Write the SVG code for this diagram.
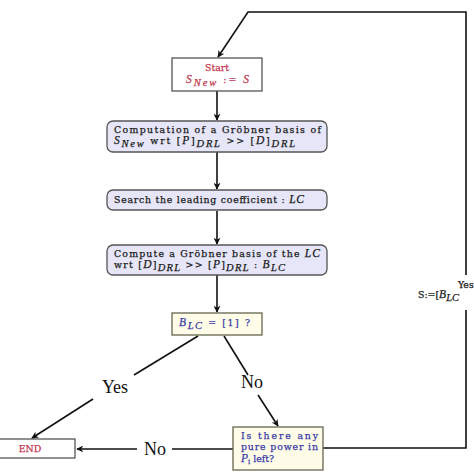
<svg xmlns="http://www.w3.org/2000/svg" width="474" height="474" viewBox="0 0 474 474">
<defs>
<style>
.box{fill:#e6e6f8;stroke:#555;stroke-width:1.3}
.wbox{fill:#fff;stroke:#555;stroke-width:1.3}
.ybox{fill:#fffde8;stroke:#666650;stroke-width:1.3}
.t{font-family:"DejaVu Serif","Liberation Serif",serif;font-size:9.4px;fill:#1a1a1a;stroke:#1a1a1a;stroke-width:0.25}
.i{font-family:"Liberation Serif","DejaVu Serif",serif;font-style:italic;font-size:11.5px}
.s{font-family:"Liberation Serif","DejaVu Serif",serif;font-style:italic;font-size:10.5px}
.red{fill:#c33650;stroke:#c33650}
.blue{fill:#3a3aa8;stroke:#3a3aa8}
.lbl{font-family:"Liberation Serif","DejaVu Serif",serif;font-size:18px;fill:#111}
.ln{fill:none;stroke:#111;stroke-width:1.6}
</style>
<marker id="ah" viewBox="0 0 10 10" refX="9" refY="5" markerWidth="7" markerHeight="7" orient="auto" markerUnits="userSpaceOnUse">
<path d="M0,0 L10,5 L0,10 L3,5 Z" fill="#111"/>
</marker>
</defs>
<rect width="474" height="474" fill="#fff"/>
<g id="connectors">
<polyline class="ln" points="323,448 466,448 466,310"/>
<polyline class="ln" points="466,275 466,12 248,12 218,57" marker-end="url(#ah)"/>
<line class="ln" x1="217" y1="91" x2="217" y2="120" marker-end="url(#ah)"/>
<line class="ln" x1="217" y1="152" x2="217" y2="189" marker-end="url(#ah)"/>
<line class="ln" x1="217" y1="211" x2="217" y2="244" marker-end="url(#ah)"/>
<line class="ln" x1="217" y1="275" x2="217" y2="312" marker-end="url(#ah)"/>
<line class="ln" x1="198" y1="336" x2="134" y2="375"/>
<line class="ln" x1="93" y1="399" x2="32" y2="438" marker-end="url(#ah)"/>
<line class="ln" x1="224" y1="336" x2="248" y2="375"/>
<line class="ln" x1="258" y1="395" x2="278" y2="426" marker-end="url(#ah)"/>
<line class="ln" x1="233" y1="449" x2="172" y2="449"/>
<line class="ln" x1="137" y1="449" x2="77" y2="449" marker-end="url(#ah)"/>
<text class="lbl" x="115" y="393" text-anchor="middle">Yes</text>
<text class="lbl" x="252" y="388" text-anchor="middle">No</text>
<text class="lbl" x="155" y="455" text-anchor="middle">No</text>
<text class="t" x="458" y="288">Yes</text>
<text class="t" x="418" y="298">S:=[<tspan class="i">B</tspan><tspan class="s" dy="2.5">LC</tspan></text>
</g>
<g id="start">
<rect class="wbox" x="172" y="58" width="90" height="33"/>
<text class="t red" x="217" y="71" text-anchor="middle">Start</text>
<text class="t red" x="186" y="83" textLength="63" lengthAdjust="spacing"><tspan class="i">S</tspan><tspan class="s" dy="2.5">New</tspan><tspan dy="-2.5"> := </tspan><tspan class="i">S</tspan></text>
</g>
<g id="groebner1">
<rect class="box" x="107" y="121" width="220" height="31" rx="6"/>
<text class="t" x="114" y="133" textLength="207" lengthAdjust="spacing">Computation of a Gröbner basis of</text>
<text class="t" x="114" y="144" textLength="181" lengthAdjust="spacing"><tspan class="i">S</tspan><tspan class="s" dy="2.5">New</tspan><tspan dy="-2.5"> wrt [</tspan><tspan class="i">P</tspan>]<tspan class="s" dy="2.5">DRL</tspan><tspan dy="-2.5"> &gt;&gt; [</tspan><tspan class="i">D</tspan>]<tspan class="s" dy="2.5">DRL</tspan></text>
</g>
<g id="search">
<rect class="box" x="107" y="190" width="220" height="20" rx="6"/>
<text class="t" x="114" y="203" textLength="190" lengthAdjust="spacing">Search the leading coefficient : <tspan class="i">LC</tspan></text>
</g>
<g id="groebner2">
<rect class="box" x="107" y="245" width="220" height="30" rx="6"/>
<text class="t" x="114" y="257" textLength="206" lengthAdjust="spacing">Compute a Gröbner basis of the <tspan class="i">LC</tspan></text>
<text class="t" x="114" y="268" textLength="171" lengthAdjust="spacing">wrt [<tspan class="i">D</tspan>]<tspan class="s" dy="2.5">DRL</tspan><tspan dy="-2.5"> &gt;&gt; [</tspan><tspan class="i">P</tspan>]<tspan class="s" dy="2.5">DRL</tspan><tspan dy="-2.5"> : </tspan><tspan class="i">B</tspan><tspan class="s" dy="2.5">LC</tspan></text>
</g>
<g id="decision1">
<rect class="ybox" x="172" y="313" width="90" height="22"/>
<text class="t blue" x="179" y="326" textLength="71" lengthAdjust="spacing"><tspan class="i">B</tspan><tspan class="s" dy="2.5">LC</tspan><tspan dy="-2.5"> = [1]   ?</tspan></text>
</g>
<g id="decision2">
<rect class="ybox" x="233" y="427" width="90" height="43"/>
<text class="t blue" x="241" y="439" textLength="77" lengthAdjust="spacing">Is there any</text>
<text class="t blue" x="241" y="450" textLength="77" lengthAdjust="spacing">pure power in</text>
<text class="t blue" x="241" y="462"><tspan class="i">P</tspan><tspan font-size="7" dy="2">i</tspan><tspan dy="-2"> left?</tspan></text>
</g>
<g id="end">
<rect class="wbox" x="-2" y="439" width="77" height="19"/>
<text class="t red" x="30" y="452" text-anchor="middle">END</text>
</g>
</svg>
